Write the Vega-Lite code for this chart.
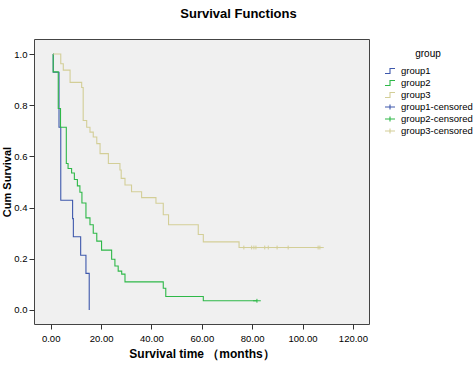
{
  "$schema": "https://vega.github.io/schema/vega-lite/v6.json",
  "autosize": {"type": "none"},
  "padding": {"left": 34, "top": 39, "right": 105, "bottom": 48},
  "width": 335,
  "height": 285,
  "background": "white",
  "title": {"text": "Survival Functions", "font": "Liberation Sans", "fontSize": 13, "fontWeight": "bold", "color": "#000", "anchor": "middle", "dx": 37, "offset": 18},
  "config": {
    "view": {"fill": "#f0f0f0", "stroke": "#444", "strokeWidth": 1},
    "axis": {"labelFont": "Liberation Sans", "labelFontSize": 9.5, "labelColor": "#000", "titleFont": "Liberation Sans", "titleFontSize": 12, "titleFontWeight": "bold", "titleColor": "#000", "tickColor": "#333", "tickSize": 5, "domain": false, "grid": false},
    "legend": {"orient": "none", "legendX": 350, "legendY": 10, "padding": 0,
               "titleFont": "Liberation Sans", "titleFontSize": 10, "titleFontWeight": "normal", "titleColor": "#000", "titleAnchor": "middle", "titlePadding": 6,
               "labelFont": "Liberation Sans", "labelFontSize": 9.5, "labelColor": "#000", "labelOffset": 5,
               "symbolSize": 100, "symbolStrokeWidth": 1.1, "rowPadding": 1}
  },
  "datasets": {
    "curves": [
      {"s": "group1", "t": 0.9, "v": 1.0},
      {"s": "group1", "t": 1.0, "v": 0.929},
      {"s": "group1", "t": 3.3, "v": 0.714},
      {"s": "group1", "t": 4.0, "v": 0.429},
      {"s": "group1", "t": 8.7, "v": 0.357},
      {"s": "group1", "t": 9.0, "v": 0.286},
      {"s": "group1", "t": 11.9, "v": 0.214},
      {"s": "group1", "t": 14.0, "v": 0.143},
      {"s": "group1", "t": 15.3, "v": 0.0},
      {"s": "group2", "t": 0.9, "v": 1.0},
      {"s": "group2", "t": 1.0, "v": 0.93},
      {"s": "group2", "t": 3.0, "v": 0.787},
      {"s": "group2", "t": 3.9, "v": 0.714},
      {"s": "group2", "t": 6.2, "v": 0.572},
      {"s": "group2", "t": 6.9, "v": 0.553},
      {"s": "group2", "t": 8.3, "v": 0.535},
      {"s": "group2", "t": 9.4, "v": 0.51},
      {"s": "group2", "t": 10.6, "v": 0.485},
      {"s": "group2", "t": 11.6, "v": 0.46},
      {"s": "group2", "t": 12.4, "v": 0.418},
      {"s": "group2", "t": 14.0, "v": 0.36},
      {"s": "group2", "t": 15.6, "v": 0.333},
      {"s": "group2", "t": 16.9, "v": 0.3},
      {"s": "group2", "t": 18.3, "v": 0.269},
      {"s": "group2", "t": 20.2, "v": 0.234},
      {"s": "group2", "t": 24.2, "v": 0.198},
      {"s": "group2", "t": 25.5, "v": 0.172},
      {"s": "group2", "t": 26.8, "v": 0.152},
      {"s": "group2", "t": 28.2, "v": 0.14},
      {"s": "group2", "t": 29.5, "v": 0.11},
      {"s": "group2", "t": 44.7, "v": 0.085},
      {"s": "group2", "t": 45.7, "v": 0.053},
      {"s": "group2", "t": 60.6, "v": 0.036},
      {"s": "group2", "t": 81.9, "v": 0.036},
      {"s": "group3", "t": 1.0, "v": 1.0},
      {"s": "group3", "t": 4.0, "v": 0.962},
      {"s": "group3", "t": 5.0, "v": 0.937},
      {"s": "group3", "t": 7.7, "v": 0.889},
      {"s": "group3", "t": 12.3, "v": 0.869},
      {"s": "group3", "t": 12.9, "v": 0.74},
      {"s": "group3", "t": 14.3, "v": 0.714},
      {"s": "group3", "t": 15.6, "v": 0.695},
      {"s": "group3", "t": 16.9, "v": 0.676},
      {"s": "group3", "t": 18.3, "v": 0.65},
      {"s": "group3", "t": 19.6, "v": 0.611},
      {"s": "group3", "t": 22.9, "v": 0.572},
      {"s": "group3", "t": 27.5, "v": 0.547},
      {"s": "group3", "t": 28.0, "v": 0.514},
      {"s": "group3", "t": 29.5, "v": 0.488},
      {"s": "group3", "t": 32.1, "v": 0.462},
      {"s": "group3", "t": 36.1, "v": 0.439},
      {"s": "group3", "t": 41.8, "v": 0.417},
      {"s": "group3", "t": 44.7, "v": 0.372},
      {"s": "group3", "t": 46.8, "v": 0.333},
      {"s": "group3", "t": 58.6, "v": 0.295},
      {"s": "group3", "t": 60.6, "v": 0.266},
      {"s": "group3", "t": 74.8, "v": 0.244},
      {"s": "group3", "t": 106.9, "v": 0.244}
    ],
    "censored": [
      {"s": "group2-censored", "t": 81.9, "v": 0.036},
      {"s": "group3-censored", "t": 76.7, "v": 0.244},
      {"s": "group3-censored", "t": 79.8, "v": 0.244},
      {"s": "group3-censored", "t": 80.7, "v": 0.244},
      {"s": "group3-censored", "t": 81.5, "v": 0.244},
      {"s": "group3-censored", "t": 85.0, "v": 0.244},
      {"s": "group3-censored", "t": 86.4, "v": 0.244},
      {"s": "group3-censored", "t": 89.9, "v": 0.244},
      {"s": "group3-censored", "t": 94.3, "v": 0.244},
      {"s": "group3-censored", "t": 106.2, "v": 0.244},
      {"s": "group3-censored", "t": 106.9, "v": 0.244}
    ]
  },
  "encoding": {
    "x": {"field": "t", "type": "quantitative", "title": "Survival time （months）",
          "scale": {"domain": [-6.63, 126.4], "nice": false, "zero": false},
          "axis": {"values": [0, 20, 40, 60, 80, 100, 120], "format": ".2f", "labelPadding": 4, "titlePadding": 6}},
    "y": {"field": "v", "type": "quantitative", "title": "Cum Survival",
          "scale": {"domain": [-0.0547, 1.0586], "nice": false, "zero": false},
          "axis": {"values": [0, 0.2, 0.4, 0.6, 0.8, 1.0], "format": ".1f", "labelPadding": 2, "titlePadding": 1, "titleFontSize": 11}},
    "color": {"field": "s", "type": "nominal", "title": "group",
              "scale": {"domain": ["group1", "group2", "group3", "group1-censored", "group2-censored", "group3-censored"],
                        "range": ["#3E58AC", "#2EB848", "#D3CE97", "#3E58AC", "#2EB848", "#D3CE97"]}}
  },
  "layer": [
    {
      "data": {"name": "curves"},
      "mark": {"type": "line", "interpolate": "step-after", "strokeWidth": 1.1}
    },
    {
      "data": {"name": "censored"},
      "mark": {"type": "point", "filled": false, "size": 60, "strokeWidth": 1, "opacity": 1},
      "encoding": {
        "shape": {"field": "s", "type": "nominal", "title": "group",
                  "scale": {"domain": ["group1", "group2", "group3", "group1-censored", "group2-censored", "group3-censored"],
                            "range": ["M-1,0.5H0V-0.5H1", "M-1,0.5H0V-0.5H1", "M-1,0.5H0V-0.5H1", "M-1,0H1M0,-0.5V0.5", "M-1,0H1M0,-0.5V0.5", "M-1,0H1M0,-0.5V0.5"]}}
      }
    }
  ]
}
